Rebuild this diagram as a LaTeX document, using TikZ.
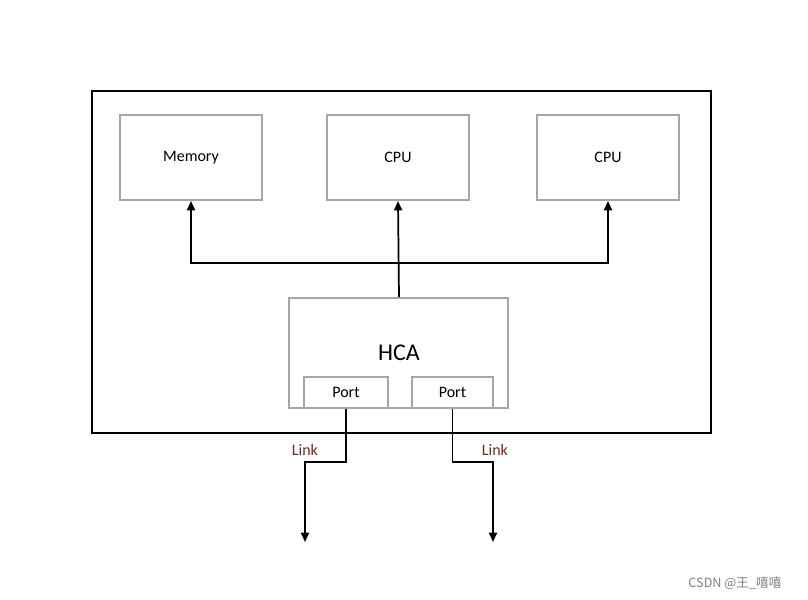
\documentclass[tikz,border=0pt]{standalone}
\usepackage{fontspec}
\setmainfont{Carlito}
\newfontfamily\cjk{Noto Sans CJK SC}
\usetikzlibrary{arrows.meta}
\begin{document}
\begin{tikzpicture}[x=0.75pt,y=-0.75pt,
  gbox/.style={draw=gray!70,line width=1.5pt},
  conn/.style={line width=1.3pt,-{Triangle[length=7pt,width=6pt]}},
  plain/.style={line width=1.3pt},
  lbl/.style={font=\fontsize{12}{14}\selectfont}]
\useasboundingbox (0,0) rectangle (808,600);
\draw[line width=2.2pt] (92,91) rectangle (711,433);
\node[gbox,minimum width=106.5pt,minimum height=63.75pt,lbl] (mem) at (191,157.5) {Memory};
\node[gbox,minimum width=106.5pt,minimum height=63.75pt,lbl] (cpu1) at (398,157.5) {CPU};
\node[gbox,minimum width=106.5pt,minimum height=63.75pt,lbl] (cpu2) at (608,157.5) {CPU};
\node[gbox,minimum width=164pt,minimum height=82.5pt] (hca) at (398.5,353) {};
\node[font=\fontsize{18}{20}\selectfont] (hcat) at (399,353) {HCA};
\node[gbox,minimum width=63pt,minimum height=23pt,lbl] (p1) at (346,392.5) {Port};
\node[gbox,minimum width=61pt,minimum height=23pt,lbl] (p2) at (452.5,392.5) {Port};
\coordinate (j) at (399,263);
\draw[conn] (hca.north -| j) -- (cpu1.south);
\draw[conn] (j) -| (mem.south);
\draw[conn] (j) -| (cpu2.south);
\coordinate (e1) at (305,542);
\coordinate (e2) at (493,542);
\draw[conn] (p1.south) |- (305,462) -- (e1);
\draw[conn] (p2.south) |- (493,462) -- (e2);
\node[lbl,text=red!35!black,opacity=0.85] (l1) at (305,450) {Link};
\node[lbl,text=red!35!black,opacity=0.85] (l2) at (495,450) {Link};
\node[text=gray,font=\cjk\fontsize{9.5}{11}\selectfont] (wm) at (735,583) {CSDN @王\_嘻嘻};
\end{tikzpicture}
\end{document}
